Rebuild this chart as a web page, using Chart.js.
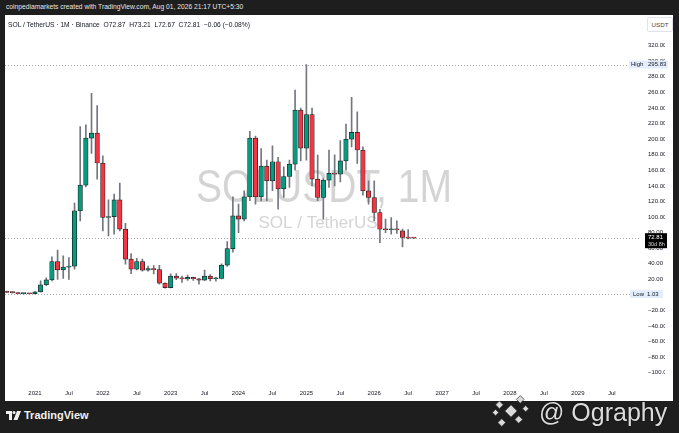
<!DOCTYPE html>
<html>
<head>
<meta charset="utf-8">
<script src="https://cdn.jsdelivr.net/npm/chart.js@4.4.1/dist/chart.umd.min.js"></script>
<style>
  html, body { margin: 0; padding: 0; width: 679px; height: 433px; overflow: hidden; background: #1e1e1e; font-family: "Liberation Sans", Arial, sans-serif; }
  #top { position: absolute; left: 6px; top: 3px; color: #e6e6e6; font-size: 6.7px; white-space: nowrap; }
  #panel { position: absolute; left: 5px; top: 15px; width: 668px; height: 386px; background: #fff; }
  #chart { position: absolute; left: 0; top: 0; }
  #legend { position: absolute; left: 3px; top: 6px; font-size: 6.7px; color: #131722; white-space: nowrap; }
  #usdt { position: absolute; left: 642px; top: 2px; width: 24px; height: 13px; border: 1px solid #e0e3eb; border-radius: 2px; font-size: 6.2px; color: #444; text-align: center; line-height: 13px; background: #fff; }
  #tv { position: absolute; left: 6px; top: 409px; color: #f0f0f0; font-size: 11px; font-weight: bold; white-space: nowrap; }
  #tv svg { vertical-align: -1px; margin-right: 3px; }
  #og { position: absolute; left: 487px; top: 389px; color: #dadada; white-space: nowrap; text-shadow: 0 0 2px rgba(0,0,0,0.7); }
  #og span { font-size: 25px; vertical-align: 12px; margin-left: 4px; }
</style>
</head>
<body>
<div id="top">coinpediamarkets created with TradingView.com, Aug 01, 2026 21:17 UTC+5:30</div>
<div id="panel">
  <canvas id="chart" width="668" height="386"></canvas>
  <div id="legend">SOL / TetherUS · 1M · Binance &nbsp;O72.87 &nbsp;H73.21 &nbsp;L72.67 &nbsp;C72.81 &nbsp;−0.06 (−0.08%)</div>
  <div id="usdt">USDT</div>
</div>
<div id="tv"><svg width="15" height="9" viewBox="0 0 30 18"><path fill="#f0f0f0" d="M0 0h12v18H6V6H0z"/><circle cx="16" cy="3" r="3" fill="#f0f0f0"/><path fill="#f0f0f0" d="M22 0h8l-7 18h-8z"/></svg>TradingView</div>
<div id="og"><svg width="48" height="44" viewBox="0 0 44 40"><g fill="#dadada" stroke="#333" stroke-width="0.6" transform="rotate(45 22 20)"><rect x="18" y="16" width="8" height="8"/><rect x="18" y="4" width="5" height="5"/><rect x="30" y="18" width="5" height="5"/><rect x="21" y="31" width="5" height="5"/><rect x="8" y="21" width="5" height="5"/><rect x="28" y="7" width="4" height="4"/><rect x="11" y="29" width="4" height="4"/></g></svg><span>@ Ography</span></div>

<script>
// Mensal SOL/USDT (Binance)
const months = [
  "2020-08", "2020-09", "2020-10", "2020-11", "2020-12",
  "2021-01", "2021-02", "2021-03", "2021-04", "2021-05", "2021-06", "2021-07", "2021-08", "2021-09", "2021-10", "2021-11", "2021-12",
  "2022-01", "2022-02", "2022-03", "2022-04", "2022-05", "2022-06", "2022-07", "2022-08", "2022-09", "2022-10", "2022-11", "2022-12",
  "2023-01", "2023-02", "2023-03", "2023-04", "2023-05", "2023-06", "2023-07", "2023-08", "2023-09", "2023-10", "2023-11", "2023-12",
  "2024-01", "2024-02", "2024-03", "2024-04", "2024-05", "2024-06", "2024-07", "2024-08", "2024-09", "2024-10", "2024-11", "2024-12",
  "2025-01", "2025-02", "2025-03", "2025-04", "2025-05", "2025-06", "2025-07", "2025-08", "2025-09", "2025-10", "2025-11", "2025-12",
  "2026-01", "2026-02", "2026-03", "2026-04", "2026-05", "2026-06", "2026-07", "2026-08",
];

const opens = [
  3.8, 3.3, 2.9, 1.6, 1.9,
  1.5, 4.0, 13, 19.3, 42.8, 32.1, 35.6, 37, 108, 141, 201.4, 207.8,
  169.3, 99.4, 100.5, 122, 84.5, 45.9, 33, 42.8, 31.7, 33.8, 32.5, 15,
  9.4, 24, 21.5, 20.5, 22.5, 20.7, 18.9, 24, 20.7, 21, 38.2, 59.5,
  101.5, 97.3, 126, 201.4, 126, 165.4, 146.5, 171, 136, 152, 168, 237.4,
  188.5, 231.4, 148.7, 125, 147.4, 156, 155, 172, 200, 208.6, 186, 133.7,
  125, 105.8, 84.4, 83.6, 84.2, 82.3, 73.7, 72.87,
];
const highs = [
  4.9, 4.0, 3.0, 2.4, 2.1,
  4.3, 18, 22, 48.8, 57.4, 50, 48, 118, 216, 218.5, 258.7, 243,
  178.7, 122, 129.4, 143.6, 92, 53, 47, 46, 37, 37.5, 38, 15.5,
  27, 27.4, 24, 25.5, 23, 21.2, 32, 26, 22.5, 40, 68.5, 126,
  116.6, 133.7, 210, 204, 188, 173, 191.5, 176.5, 164.5, 173, 263, 240,
  295.83, 240, 179.5, 150, 186, 180, 198, 219.3, 253.7, 235, 190, 146.5,
  146.5, 110, 97.3, 99.4, 95, 84.4, 84, 73.21,
];
const lows = [
  2.9, 2.3, 1.4, 1.03, 1.3,
  1.4, 3.5, 12, 18, 20, 21, 20, 33, 95, 138.8, 181.6, 148.7,
  82.3, 75.8, 78, 82, 39.5, 27.4, 32, 30.5, 30.5, 27, 13.7, 8.6,
  9, 19.5, 16, 18.5, 18.5, 13.7, 18.5, 18, 17.5, 20.5, 36.5, 55,
  80, 95, 121, 116.6, 120.8, 121, 133.7, 110, 125, 138, 160, 172,
  173, 140, 121, 97.3, 138, 140, 145, 160, 190, 168.8, 128, 116.6,
  95, 67.2, 80, 78, 79, 61.7, 72, 72.67,
];
const closes = [
  3.3, 2.9, 1.6, 1.9, 1.5,
  4.0, 13, 19.3, 42.8, 32.1, 35.6, 37, 108, 141, 201.4, 207.8, 169.3,
  99.4, 100.5, 122, 84.5, 45.9, 33, 42.8, 31.7, 33.8, 32.5, 15, 9.4,
  24, 21.5, 20.5, 22.5, 20.7, 18.9, 24, 20.7, 21, 38.2, 59.5, 101.5,
  97.3, 126, 201.4, 126, 165.4, 146.5, 171, 136, 152, 168, 237.4, 188.5,
  231.4, 148.7, 125, 147.4, 156, 155, 172, 200, 208.6, 186, 133.7, 125,
  105.8, 84.4, 83.6, 84.2, 83.5, 73.7, 72.87, 72.81,
];

// rótulos dos eixos
const yearLabels = ["2021", "2022", "2023", "2024", "2025", "2026", "2027", "2028", "2029"];
const halfLabel = "Jul";
const priceTicks = [320, 300, 280, 260, 240, 220, 200, 180, 160, 140, 120, 100, 80, 60, 40, 20, 0, -20, -40, -60, -80, -100];

const lastPrice = 72.81;
const highPrice = 295.83;
const lowPrice = 1.03;

const UP = "#089981";
const DOWN = "#f23645";

function monthIndex(s) {
  const [y, m] = s.split("-").map(Number);
  return (y - 2020) * 12 + (m - 1);
}

const xs = months.map(monthIndex);
const bodies = xs.map((x, i) => ({ x: x, y: [opens[i], closes[i]] }));
const wicks = xs.map((x, i) => ({ x: x, y: [lows[i], highs[i]] }));
const bodyColors = closes.map((c, i) => (c >= opens[i] ? UP : DOWN));

const timeTicks = [];
yearLabels.forEach((y) => {
  const m = monthIndex(y + "-01");
  timeTicks.push({ value: m, label: y });
  timeTicks.push({ value: m + 6, label: halfLabel });
});

const fmt = (v) => (v < 0 ? "\u2212" : "") + Math.abs(v).toFixed(2);

// marca d'água, linhas pontilhadas e etiquetas de preço
const tvExtras = {
  id: "tvExtras",
  beforeDatasetsDraw(chart) {
    const { ctx, chartArea, scales } = chart;
    ctx.save();
    ctx.fillStyle = "rgba(128,128,128,0.34)";
    ctx.textAlign = "center";
    ctx.textBaseline = "alphabetic";
    ctx.font = "46px 'Liberation Sans', Arial, sans-serif";
    ctx.fillText("SOLUSDT, 1M", 319, 187, 256);
    ctx.font = "17px 'Liberation Sans', Arial, sans-serif";
    ctx.fillText("SOL / TetherUS", 313, 213);

    ctx.strokeStyle = "#a3a6af";
    ctx.lineWidth = 1;
    ctx.setLineDash([1, 2]);
    [highPrice, lastPrice, lowPrice].forEach((p) => {
      const y = Math.round(scales.y.getPixelForValue(p)) + 0.5;
      ctx.beginPath();
      ctx.moveTo(chartArea.left, y);
      ctx.lineTo(chartArea.right, y);
      ctx.stroke();
    });
    ctx.restore();
  },
  afterDraw(chart) {
    const { ctx, scales } = chart;
    const font = "6px 'Liberation Sans', Arial, sans-serif";
    ctx.save();
    ctx.font = font;
    ctx.textBaseline = "middle";
    ctx.textAlign = "left";

    let y = scales.y.getPixelForValue(highPrice);
    ctx.fillStyle = "#e3edfb";
    ctx.fillRect(624, y - 4, 39, 8);
    ctx.fillStyle = "#131722";
    ctx.fillText("High", 626, y);
    ctx.fillText(fmt(highPrice), 643, y);

    y = scales.y.getPixelForValue(lowPrice);
    ctx.fillStyle = "#e3edfb";
    ctx.fillRect(625, y - 4, 33, 8);
    ctx.fillStyle = "#131722";
    ctx.fillText("Low", 628, y);
    ctx.fillText(fmt(lowPrice), 642, y);

    y = scales.y.getPixelForValue(lastPrice);
    ctx.fillStyle = "#000";
    ctx.fillRect(640, y - 5, 22, 15);
    ctx.fillStyle = "#fff";
    ctx.fillText(fmt(lastPrice), 643, y - 0.5);
    ctx.font = "5.5px 'Liberation Sans', Arial, sans-serif";
    ctx.fillStyle = "#d8d8d8";
    ctx.fillText("30d 8h", 643, y + 6);
    ctx.restore();
  },
};

const ctx = document.getElementById("chart");

new Chart(ctx, {
  type: "bar",
  data: {
    datasets: [
      {
        label: "body",
        data: bodies,
        backgroundColor: bodyColors,
        borderColor: "#1b1b1b",
        borderWidth: 0.7,
        borderSkipped: false,
        barThickness: 4.5,
        minBarLength: 1,
        grouped: false,
        order: 0,
      },
      {
        label: "wick",
        data: wicks,
        backgroundColor: "#74777f",
        borderWidth: 0,
        barThickness: 1,
        grouped: false,
        order: 1,
      },
    ],
  },
  options: {
    responsive: false,
    animation: false,
    events: [],
    layout: { autoPadding: false, padding: { left: 0, right: 8, top: 0, bottom: 0 } },
    plugins: {
      legend: { display: false },
      tooltip: { enabled: false },
    },
    scales: {
      x: {
        type: "linear",
        offset: false,
        min: 6.7,
        max: 119,
        grid: { display: false, drawTicks: false },
        border: { display: false },
        afterBuildTicks(scale) {
          scale.ticks = timeTicks.map((t) => ({ value: t.value }));
        },
        ticks: {
          autoSkip: false,
          maxRotation: 0,
          padding: 5,
          color: "#131722",
          font: { size: 6, family: "'Liberation Sans', Arial, sans-serif" },
          callback: (v) => {
            const t = timeTicks.find((tt) => tt.value === v);
            return t ? t.label : "";
          },
        },
        afterFit(scale) {
          scale.height = 16;
        },
      },
      y: {
        position: "right",
        min: -115.7,
        max: 344.5,
        grid: { display: false, drawTicks: false },
        border: { display: false },
        afterBuildTicks(scale) {
          scale.ticks = priceTicks.map((v) => ({ value: v }));
        },
        ticks: {
          autoSkip: false,
          padding: 8,
          color: "#131722",
          font: { size: 6, family: "'Liberation Sans', Arial, sans-serif" },
          callback: (v) => fmt(v),
        },
        afterFit(scale) {
          scale.width = 25;
        },
      },
    },
  },
  plugins: [tvExtras],
});
</script>
</body>
</html>
